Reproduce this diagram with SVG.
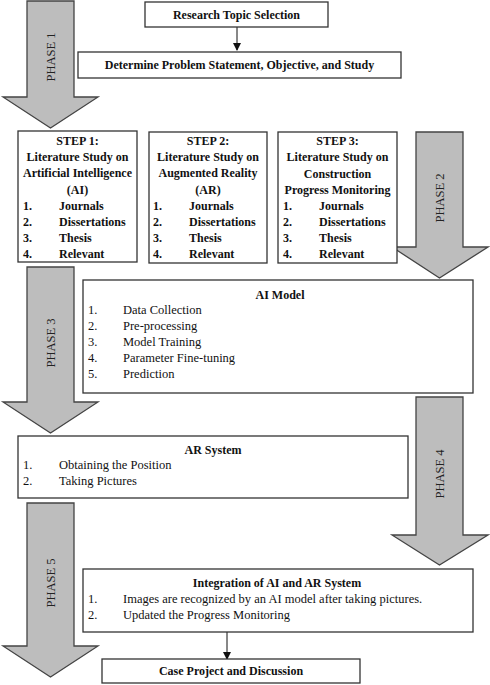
<svg xmlns="http://www.w3.org/2000/svg" width="490" height="685" viewBox="0 0 490 685">
<defs>
<style>
.box{fill:#fff;stroke:#333;stroke-width:1.3}
.ph{fill:#bdbdbd;stroke:#444;stroke-width:1.3}
.b{font-family:"Liberation Serif","Times New Roman",serif;font-size:12px;font-weight:bold;fill:#111}
.r{font-family:"Liberation Serif","Times New Roman",serif;font-size:12.5px;fill:#111}
.p{font-family:"Liberation Serif","Times New Roman",serif;font-size:12.5px;fill:#222}
.c{text-anchor:middle}
.ln{stroke:#111;stroke-width:1;fill:none}
</style>
<marker id="ah" markerWidth="8" markerHeight="8" refX="7" refY="4" orient="auto" markerUnits="userSpaceOnUse">
<path d="M0,0 L8,4 L0,8 z" fill="#111"/>
</marker>
</defs>
<g id="phase1"><polygon class="ph" points="27,1 74,1 74,97 98,97 50.5,128 3,97 27,97"/><text class="p c" transform="translate(54.5,57) rotate(-90)">PHASE 1</text></g>
<g id="phase2"><polygon class="ph" points="416,132 463,132 463,247 488,247 439.5,278 392,247 416,247"/><text class="p c" transform="translate(444,198) rotate(-90)">PHASE 2</text></g>
<g id="phase3"><polygon class="ph" points="27,267 74,267 74,402 98,402 50.5,433 3,402 27,402"/><text class="p c" transform="translate(54.5,343) rotate(-90)">PHASE 3</text></g>
<g id="phase4"><polygon class="ph" points="416,397 463,397 463,535 488,535 439.5,565 392,535 416,535"/><text class="p c" transform="translate(444,474) rotate(-90)">PHASE 4</text></g>
<g id="phase5"><polygon class="ph" points="27,503 74,503 74,646 98,646 50.5,677 3,646 27,646"/><text class="p c" transform="translate(54.5,583) rotate(-90)">PHASE 5</text></g>
<g id="connectors">
<line class="ln" x1="237" y1="27" x2="237" y2="50" marker-end="url(#ah)"/>
<line class="ln" x1="227" y1="632" x2="227" y2="659" marker-end="url(#ah)"/>
</g>
<g id="topic"><rect class="box" x="145" y="2" width="183" height="25"/><text class="b c" x="236.5" y="18.5">Research Topic Selection</text></g>
<g id="problem"><rect class="box" x="78" y="52" width="323" height="26"/><text class="b c" x="239.5" y="69">Determine Problem Statement, Objective, and Study</text></g>
<g id="step1"><rect class="box" x="18" y="131" width="119" height="131"/>
<text class="b c" x="77.5" y="145">STEP 1:</text>
<text class="b c" x="77.5" y="161">Literature Study on</text>
<text class="b c" x="77.5" y="177">Artificial Intelligence</text>
<text class="b c" x="77.5" y="194">(AI)</text>
<text class="b" x="23" y="210">1.</text><text class="b" x="59" y="210">Journals</text>
<text class="b" x="23" y="226">2.</text><text class="b" x="59" y="226">Dissertations</text>
<text class="b" x="23" y="242">3.</text><text class="b" x="59" y="242">Thesis</text>
<text class="b" x="23" y="258">4.</text><text class="b" x="59" y="258">Relevant</text>
</g>
<g id="step2"><rect class="box" x="149" y="132" width="118" height="131"/>
<text class="b c" x="208" y="145">STEP 2:</text>
<text class="b c" x="208" y="161">Literature Study on</text>
<text class="b c" x="208" y="177">Augmented Reality</text>
<text class="b c" x="208" y="194">(AR)</text>
<text class="b" x="153" y="210">1.</text><text class="b" x="189" y="210">Journals</text>
<text class="b" x="153" y="226">2.</text><text class="b" x="189" y="226">Dissertations</text>
<text class="b" x="153" y="242">3.</text><text class="b" x="189" y="242">Thesis</text>
<text class="b" x="153" y="258">4.</text><text class="b" x="189" y="258">Relevant</text>
</g>
<g id="step3"><rect class="box" x="278" y="132" width="119" height="131"/>
<text class="b c" x="337.5" y="145">STEP 3:</text>
<text class="b c" x="337.5" y="161">Literature Study on</text>
<text class="b c" x="337.5" y="178">Construction</text>
<text class="b c" x="337.5" y="194">Progress Monitoring</text>
<text class="b" x="283" y="210">1.</text><text class="b" x="319" y="210">Journals</text>
<text class="b" x="283" y="226">2.</text><text class="b" x="319" y="226">Dissertations</text>
<text class="b" x="283" y="242">3.</text><text class="b" x="319" y="242">Thesis</text>
<text class="b" x="283" y="258">4.</text><text class="b" x="319" y="258">Relevant</text>
</g>
<g id="aimodel"><rect class="box" x="83" y="280" width="390" height="113"/>
<text class="b c" x="280" y="299">AI Model</text>
<text class="r" x="88" y="314">1.</text><text class="r" x="123" y="314">Data Collection</text>
<text class="r" x="88" y="330">2.</text><text class="r" x="123" y="330">Pre-processing</text>
<text class="r" x="88" y="346">3.</text><text class="r" x="123" y="346">Model Training</text>
<text class="r" x="88" y="362">4.</text><text class="r" x="123" y="362">Parameter Fine-tuning</text>
<text class="r" x="88" y="378">5.</text><text class="r" x="123" y="378">Prediction</text>
</g>
<g id="arsystem"><rect class="box" x="18" y="436" width="390" height="62"/>
<text class="b c" x="213" y="454">AR System</text>
<text class="r" x="23" y="469">1.</text><text class="r" x="59" y="469">Obtaining the Position</text>
<text class="r" x="23" y="485">2.</text><text class="r" x="59" y="485">Taking Pictures</text>
</g>
<g id="integration"><rect class="box" x="83" y="569" width="390" height="63"/>
<text class="b c" x="277" y="587">Integration of AI and AR System</text>
<text class="r" x="88" y="603">1.</text><text class="r" x="123" y="603">Images are recognized by an AI model after taking pictures.</text>
<text class="r" x="88" y="619">2.</text><text class="r" x="123" y="619">Updated the Progress Monitoring</text>
</g>
<g id="caseproject"><rect class="box" x="102" y="659" width="258" height="24"/><text class="b c" x="231" y="675">Case Project and Discussion</text></g>
</svg>
